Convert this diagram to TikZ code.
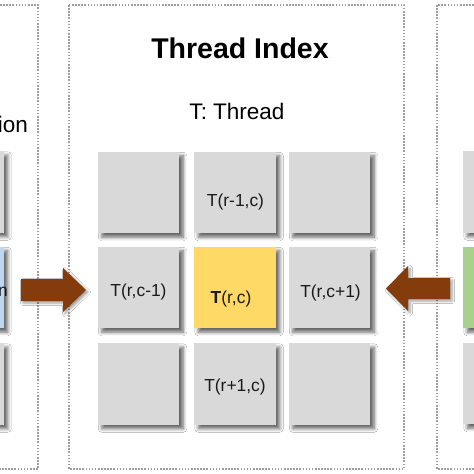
\documentclass[tikz,border=0pt]{standalone}
\usepackage{fontspec}
\setmainfont{Liberation Sans}
\usetikzlibrary{shadows.blur}
\definecolor{cellgray}{HTML}{D9D9D9}
\definecolor{cellyellow}{HTML}{FFD966}
\definecolor{cellgreen}{HTML}{A9D18E}
\definecolor{cellblue}{HTML}{BDD7EE}
\definecolor{arrowbrown}{HTML}{843C0C}
\definecolor{dotgray}{HTML}{9E9E9E}
\definecolor{txt}{HTML}{1A1A1A}
\tikzset{
  panel/.style={draw=dotgray, line width=1.6pt, dash pattern=on 1.6pt off 1.5pt},
  cell/.style={draw=none, fill=cellgray, minimum size=81.5pt, inner sep=0pt,
     blur shadow={shadow xshift=4pt, shadow yshift=-4pt, shadow blur radius=3.5pt, shadow blur steps=6, shadow opacity=60}},
  lbl/.style={font=\fontsize{17.4}{20}\selectfont, text=txt, anchor=base, inner sep=0pt},
  bigarrow/.style={fill=arrowbrown, draw=none,
     blur shadow={shadow xshift=2pt, shadow yshift=-2pt, shadow blur radius=2.5pt, shadow blur steps=5, shadow opacity=40}}
}
\begin{document}
\begin{tikzpicture}[x=1pt,y=-1pt]
\useasboundingbox (0,0) rectangle (474,474);
\fill[white] (0,0) rectangle (474,474);
% panels
\draw[panel] (-30,5) rectangle (38,469);
\draw[panel] (69,5) rectangle (404,469);
\draw[panel] (437,5) rectangle (520,469);
% titles
\node[font=\fontsize{28.5}{32}\selectfont\bfseries, anchor=base, inner sep=0pt] (title) at (240,58) {Thread Index};
\node[font=\fontsize{22.5}{26}\selectfont, anchor=base, inner sep=0pt] (sub) at (237,119) {T: Thread};
\node[font=\fontsize{22.5}{26}\selectfont, anchor=base east, inner sep=0pt] (leftlbl) at (28,132) {ion};
% left partial cells
\node[cell] (l1) at (-37,192) {};
\node[cell, fill=cellblue] (l2) at (-37,287.5) {};
\node[cell] (l3) at (-37,384) {};
\node[lbl, anchor=base west] (l2t) at (-2,296) {n};
% right partial cells
\node[cell] (r1) at (504,192) {};
\node[cell, fill=cellgreen] (r2) at (504,287.5) {};
\node[cell] (r3) at (504,383.5) {};
% grid
\node[cell] (c11) at (138.5,192.5) {};
\node[cell] (c12) at (235,192.5) {};
\node[cell] (c13) at (329.5,192.5) {};
\node[cell] (c21) at (138.5,287.5) {};
\node[cell, fill=cellyellow] (c22) at (235,287.5) {};
\node[cell] (c23) at (329.5,287.5) {};
\node[cell] (c31) at (138.5,384) {};
\node[cell] (c32) at (235,384) {};
\node[cell] (c33) at (329.5,384) {};
% labels
\node[lbl] (t12) at (235.5,206) {T(r-1,c)};
\node[lbl] (t21) at (138.5,296) {T(r,c-1)};
\node[lbl] (t22) at (231,303) {\textbf{T}(r,c)};
\node[lbl] (t23) at (330.5,297) {T(r,c+1)};
\node[lbl] (t32) at (235,391) {T(r+1,c)};
% arrows
\path[bigarrow] (21,279) -- (63,279) -- (63,268) -- (86,290) -- (63,312) -- (63,301) -- (21,301) -- cycle;
\path[bigarrow] (450,278) -- (408,278) -- (408,266) -- (386,288.5) -- (408,311) -- (408,299) -- (450,299) -- cycle;
\end{tikzpicture}
\end{document}
